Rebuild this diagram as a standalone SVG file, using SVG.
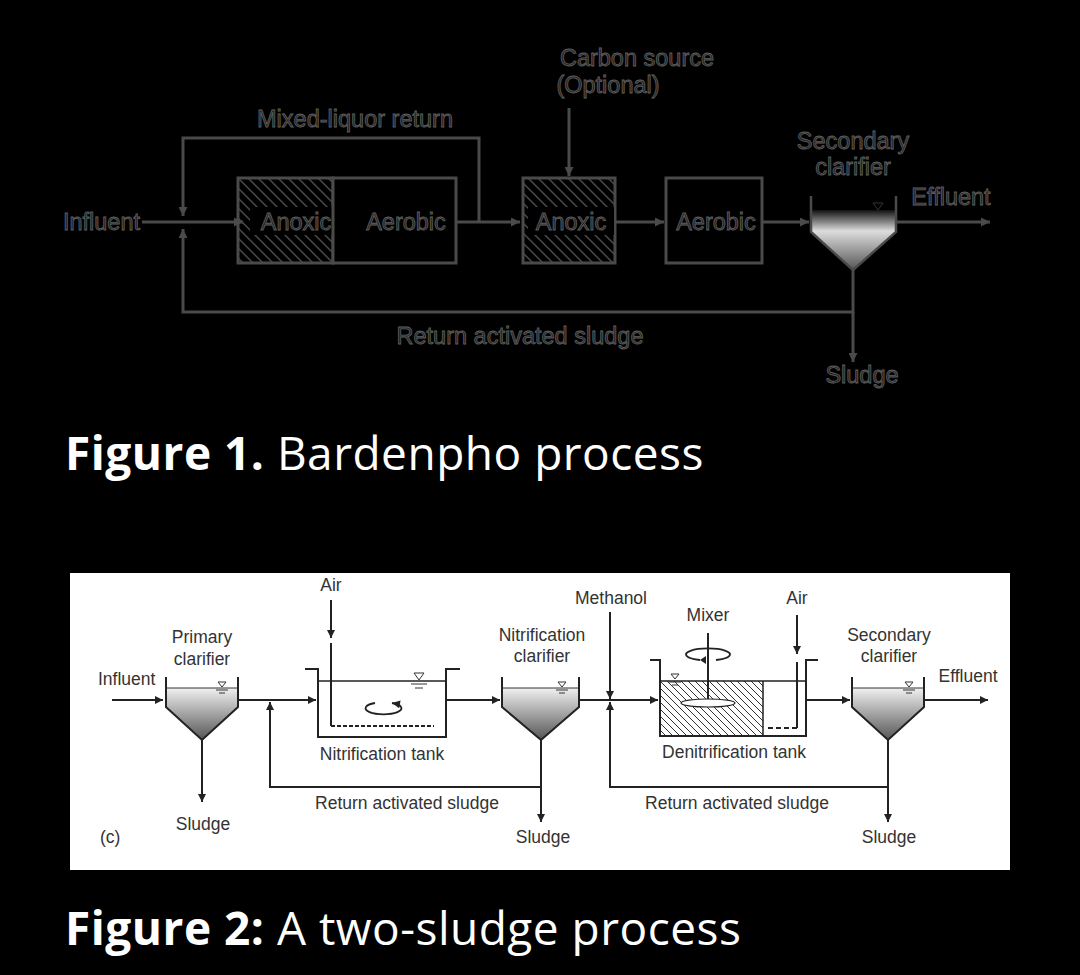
<svg xmlns="http://www.w3.org/2000/svg" width="1080" height="975" viewBox="0 0 1080 975">
<style>
.t1{font-family:"Liberation Sans",Arial,sans-serif;font-size:23.5px;fill:#222;stroke:#606060;stroke-width:0.8}
.l1{stroke:#4a4a4a;stroke-width:3;fill:none}
.t2{font-family:"Liberation Sans",Arial,sans-serif;font-size:17.5px;fill:#333}
.l2{stroke:#222;stroke-width:2;fill:none}
.cap{font-family:"Open Sans","Liberation Sans",sans-serif;font-size:46px;fill:#fff;letter-spacing:0.5px}
</style>
<defs>
<marker id="a1" viewBox="0 0 10 10" refX="10" refY="5" markerWidth="16" markerHeight="9" orient="auto" markerUnits="userSpaceOnUse"><path d="M0,0L10,5L0,10z" fill="#4a4a4a"/></marker>
<marker id="a2" viewBox="0 0 10 10" refX="10" refY="5" markerWidth="14" markerHeight="8" orient="auto" markerUnits="userSpaceOnUse"><path d="M0,0L10,5L0,10z" fill="#222"/></marker>
<pattern id="h1" width="10" height="10" patternUnits="userSpaceOnUse"><path d="M-5,-5L15,15M-5,5L5,15M5,-5L15,5" stroke="#4a4a4a" stroke-width="1.5"/></pattern>
<pattern id="h2" width="7" height="7" patternUnits="userSpaceOnUse"><path d="M-3.5,-3.5L10.5,10.5M-3.5,3.5L3.5,10.5M3.5,-3.5L10.5,3.5" stroke="#333" stroke-width="1"/></pattern>
<linearGradient id="g1" x1="0" y1="0" x2="0" y2="1"><stop offset="0" stop-color="#111"/><stop offset="0.35" stop-color="#ddd"/><stop offset="1" stop-color="#555"/></linearGradient>
<linearGradient id="g2" x1="0" y1="0" x2="0" y2="1"><stop offset="0" stop-color="#f0f0f0"/><stop offset="1" stop-color="#555"/></linearGradient>
</defs>
<rect width="1080" height="975" fill="#000"/>

<g id="fig1">
<g id="n-anoxic1"><rect x="238" y="178" width="95" height="85" fill="url(#h1)" stroke="#4a4a4a" stroke-width="3"/><rect x="250" y="207" width="82" height="28" fill="#000"/><text class="t1" x="296" y="230" text-anchor="middle">Anoxic</text></g>
<g id="n-aerobic1"><rect x="333" y="178" width="123" height="85" fill="#000" stroke="#4a4a4a" stroke-width="3"/><text class="t1" x="406" y="230" text-anchor="middle">Aerobic</text></g>
<g id="n-anoxic2"><rect x="523" y="178" width="92" height="85" fill="url(#h1)" stroke="#4a4a4a" stroke-width="3"/><rect x="528" y="207" width="86" height="28" fill="#000"/><text class="t1" x="571" y="230" text-anchor="middle">Anoxic</text></g>
<g id="n-aerobic2"><rect x="666" y="178" width="96" height="85" fill="#000" stroke="#4a4a4a" stroke-width="3"/><text class="t1" x="716" y="230" text-anchor="middle">Aerobic</text></g>
<g id="n-clar1">
<path d="M811,210H896V232L853,270L811,232Z" fill="url(#g1)"/>
<path d="M811,196V232L853,270L896,232V196" stroke="#4a4a4a" stroke-width="2.5" fill="none"/>
<path d="M873,203h10l-5,7z" fill="none" stroke="#333" stroke-width="1"/>
<text class="t1" x="853" y="149" text-anchor="middle">Secondary</text><text class="t1" x="853" y="175" text-anchor="middle">clarifier</text></g>
<g id="c1">
<path class="l1" d="M142,222H243" marker-end="url(#a1)"/>
<path class="l1" d="M456,222H520" marker-end="url(#a1)"/>
<path class="l1" d="M479,222V138H183V216" marker-end="url(#a1)"/>
<path class="l1" d="M853,270V312H183V229" marker-end="url(#a1)"/>
<path class="l1" d="M569,108V176" marker-end="url(#a1)"/>
<path class="l1" d="M615,222H664" marker-end="url(#a1)"/>
<path class="l1" d="M762,222H809" marker-end="url(#a1)"/>
<path class="l1" d="M896,222H990" marker-end="url(#a1)"/>
<path class="l1" d="M853,312V362" marker-end="url(#a1)"/>
</g>
<text class="t1" x="140" y="230" text-anchor="end">Influent</text>
<text class="t1" x="355" y="127" text-anchor="middle">Mixed-liquor return</text>
<text class="t1" x="637" y="66" text-anchor="middle">Carbon source</text>
<text class="t1" x="608" y="93" text-anchor="middle">(Optional)</text>
<text class="t1" x="951" y="205" text-anchor="middle">Effluent</text>
<text class="t1" x="520" y="344" text-anchor="middle">Return activated sludge</text>
<text class="t1" x="862" y="383" text-anchor="middle">Sludge</text>
</g>
<text class="cap" x="65" y="470"><tspan font-weight="bold">Figure 1.</tspan> Bardenpho process</text>

<rect x="70" y="573" width="940" height="297" fill="#fff"/>
<g id="fig2">
<g id="n-primary"><path d="M166,688H238V707L202,740L166,707Z" fill="url(#g2)"/><path class="l2" d="M166,677V707L202,740L238,707V677" stroke-width="1.5"/><path d="M166,688H238" stroke="#333"/><path d="M218,682h8l-4,5z M216,690h12M219,693h6" stroke="#333" fill="none" stroke-width="1"/>
<text class="t2" x="202" y="643" text-anchor="middle">Primary</text><text class="t2" x="202" y="665" text-anchor="middle">clarifier</text></g>
<g id="n-nitrtank"><path class="l2" d="M305,669H318V737H446V669H460" stroke-width="1.5"/><path d="M318,681H446" stroke="#222" stroke-width="1.5"/><path d="M414,673h10l-5,7z M411,684h16M415,688h8" stroke="#333" fill="none" stroke-width="1"/>
<path d="M331,643V726" class="l2"/><path d="M331,726H434" stroke="#222" stroke-width="2" stroke-dasharray="4,2"/>
<path d="M375,703A18,6 0 1 0 392,703" fill="none" stroke="#222" stroke-width="1.8" marker-end="url(#a2)"/>
<text class="t2" x="382" y="760" text-anchor="middle">Nitrification tank</text></g>
<g id="n-nitrclar"><path d="M502,688H579V707L541,740L502,707Z" fill="url(#g2)"/><path class="l2" d="M502,677V707L541,740L579,707V677" stroke-width="1.5"/><path d="M502,688H579" stroke="#333"/><path d="M558,682h8l-4,5z M556,690h12M559,693h6" stroke="#333" fill="none" stroke-width="1"/>
<text class="t2" x="542" y="641" text-anchor="middle">Nitrification</text><text class="t2" x="542" y="662" text-anchor="middle">clarifier</text></g>
<g id="n-denitank"><rect x="660" y="681" width="103" height="55" fill="url(#h2)"/><path class="l2" d="M650,660H660V736H806V660H818" stroke-width="1.5"/><path d="M660,681H806M763,681V736" stroke="#222" stroke-width="1.5"/>
<path d="M671,674h8l-4,5z M669,682h12M672,685h6" stroke="#333" fill="none" stroke-width="1"/>
<path d="M708,633V702" class="l2"/><ellipse cx="708" cy="703" rx="27" ry="4" fill="#fff" stroke="#222" stroke-width="1.2"/>
<path d="M700,660A22,6 0 1 1 716,660" fill="none" stroke="#222" stroke-width="1.8"/><path d="M700,660l6,-4v8z" fill="#222"/>
<path d="M797,662V728" class="l2"/><path d="M797,728H768" stroke="#222" stroke-width="2" stroke-dasharray="5,3"/>
<text class="t2" x="734" y="758" text-anchor="middle">Denitrification tank</text></g>
<g id="n-secclar"><path d="M852,688H924V707L888,740L852,707Z" fill="url(#g2)"/><path class="l2" d="M852,677V707L888,740L924,707V677" stroke-width="1.5"/><path d="M852,688H924" stroke="#333"/><path d="M905,682h8l-4,5z M903,690h12M906,693h6" stroke="#333" fill="none" stroke-width="1"/>
<text class="t2" x="889" y="641" text-anchor="middle">Secondary</text><text class="t2" x="889" y="662" text-anchor="middle">clarifier</text></g>
<g id="c2">
<path class="l2" d="M112,700H163" marker-end="url(#a2)"/>
<path class="l2" d="M202,740V802" marker-end="url(#a2)"/>
<path class="l2" d="M238,700H316" marker-end="url(#a2)"/>
<path class="l2" d="M542,787H270V702" marker-end="url(#a2)"/>
<path class="l2" d="M331,600V638" marker-end="url(#a2)"/>
<path class="l2" d="M446,700H500" marker-end="url(#a2)"/>
<path class="l2" d="M541,740V822" marker-end="url(#a2)"/>
<path class="l2" d="M579,700H658" marker-end="url(#a2)"/>
<path class="l2" d="M610,612V699" marker-end="url(#a2)"/>
<path class="l2" d="M888,787H610V702" marker-end="url(#a2)"/>
<path class="l2" d="M797,615V654" marker-end="url(#a2)"/>
<path class="l2" d="M806,700H850" marker-end="url(#a2)"/>
<path class="l2" d="M888,740V822" marker-end="url(#a2)"/>
<path class="l2" d="M924,700H988" marker-end="url(#a2)"/>
</g>
<text class="t2" x="98" y="685">Influent</text>
<text class="t2" x="331" y="591" text-anchor="middle">Air</text>
<text class="t2" x="611" y="604" text-anchor="middle">Methanol</text>
<text class="t2" x="708" y="621" text-anchor="middle">Mixer</text>
<text class="t2" x="797" y="604" text-anchor="middle">Air</text>
<text class="t2" x="968" y="682" text-anchor="middle">Effluent</text>
<text class="t2" x="407" y="809" text-anchor="middle">Return activated sludge</text>
<text class="t2" x="737" y="809" text-anchor="middle">Return activated sludge</text>
<text class="t2" x="203" y="830" text-anchor="middle">Sludge</text>
<text class="t2" x="543" y="843" text-anchor="middle">Sludge</text>
<text class="t2" x="889" y="843" text-anchor="middle">Sludge</text>
<text class="t2" x="100" y="843">(c)</text>
</g>
<text class="cap" x="65" y="945"><tspan font-weight="bold">Figure 2:</tspan> A two-sludge process</text>
</svg>
